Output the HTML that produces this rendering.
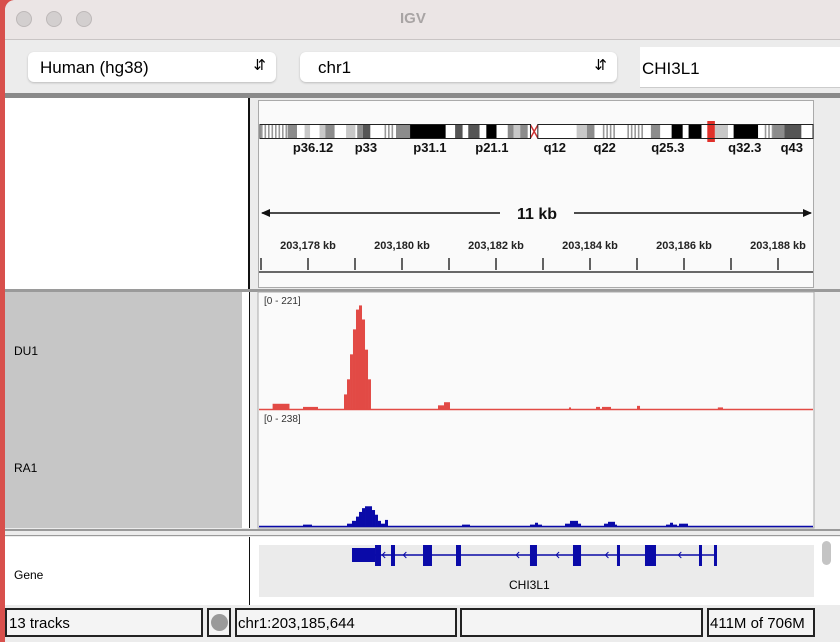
<!DOCTYPE html>
<html><head><meta charset="utf-8">
<style>
*{margin:0;padding:0;box-sizing:border-box}
body{width:840px;height:642px;overflow:hidden;background:#d8504c;font-family:"Liberation Sans",sans-serif;position:relative}
.abs{position:absolute}
#win{position:absolute;left:5px;top:0;width:840px;height:642px;background:#ececec;border-radius:10px 0 0 10px;overflow:hidden}
</style></head>
<body>
<div id="win"></div>
<div class="abs" style="left:5px;top:0;width:835px;height:40px;background:#ebe5e5;border-radius:10px 0 0 0;border-bottom:1px solid #c9c4c4"></div>
<div class="abs" style="left:16px;top:11px;width:16px;height:16px;border-radius:50%;background:#d3cfcf;border:1px solid #bdb8b8"></div>
<div class="abs" style="left:46px;top:11px;width:16px;height:16px;border-radius:50%;background:#d3cfcf;border:1px solid #bdb8b8"></div>
<div class="abs" style="left:76px;top:11px;width:16px;height:16px;border-radius:50%;background:#d3cfcf;border:1px solid #bdb8b8"></div>
<div class="abs" style="left:400px;top:10px;font-size:15px;color:#a8a4a4;font-weight:bold">IGV</div>

<div class="abs" style="left:28px;top:52px;width:248px;height:30px;background:#fff;border-radius:6px;box-shadow:0 1px 2px #bbb;font-size:17px;padding:6px 0 0 12px">Human (hg38)<span style="position:absolute;right:10px;top:4px;font-size:15px">&#8693;</span></div>
<div class="abs" style="left:300px;top:52px;width:317px;height:30px;background:#fff;border-radius:6px;box-shadow:0 1px 2px #bbb;font-size:17px;padding:6px 0 0 18px">chr1<span style="position:absolute;right:10px;top:4px;font-size:15px">&#8693;</span></div>
<div class="abs" style="left:640px;top:47px;width:200px;height:41px;background:#fff;border-bottom:1px solid #ccc;font-size:17px;padding:12px 0 0 2px">CHI3L1</div>
<div class="abs" style="left:5px;top:93px;width:835px;height:5px;background:#8a8a8a"></div>

<div class="abs" style="left:5px;top:98px;width:243px;height:192px;background:#fff"></div>
<div class="abs" style="left:248px;top:98px;width:2px;height:192px;background:#111"></div>
<div class="abs" style="left:258px;top:100px;width:556px;height:188px;background:#fafafa;border:1px solid #aaa"></div>
<div class="abs" style="left:5px;top:289px;width:835px;height:3px;background:#9a9a9a"></div>

<div class="abs" style="left:5px;top:292px;width:237px;height:236px;background:#c6c6c6"></div>
<div class="abs" style="left:242px;top:292px;width:7px;height:236px;background:#fff"></div>
<div class="abs" style="left:249px;top:292px;width:1px;height:236px;background:#111"></div>
<div class="abs" style="left:14px;top:344px;font-size:12px">DU1</div>
<div class="abs" style="left:14px;top:461px;font-size:12px">RA1</div>
<div class="abs" style="left:5px;top:529px;width:835px;height:7px;background:#ececec;border-top:2px solid #9a9a9a;border-bottom:1px solid #9a9a9a"></div>

<div class="abs" style="left:5px;top:537px;width:244px;height:68px;background:#fff"></div>
<div class="abs" style="left:249px;top:537px;width:1px;height:68px;background:#111"></div>
<div class="abs" style="left:14px;top:568px;font-size:12px">Gene</div>
<div class="abs" style="left:250px;top:537px;width:590px;height:68px;background:#fff"></div>
<div class="abs" style="left:259px;top:545px;width:555px;height:52px;background:#ebebeb"></div>
<div class="abs" style="left:822px;top:541px;width:9px;height:24px;background:#c4c4c4;border-radius:5px"></div>
<div class="abs" style="left:509px;top:578px;font-size:12px">CHI3L1</div>

<div class="abs" style="left:5px;top:606px;width:835px;height:36px;background:#ececec"></div>
<div class="abs" style="left:5px;top:608px;width:198px;height:29px;border:2px solid #222;background:#f4f4f4;font-size:15px;padding:5px 0 0 2px">13 tracks</div>
<div class="abs" style="left:207px;top:608px;width:24px;height:29px;border:2px solid #222;background:#f4f4f4"><div style="margin:4px 0 0 2px;width:17px;height:17px;border-radius:50%;background:#9a9a9a"></div></div>
<div class="abs" style="left:235px;top:608px;width:222px;height:29px;border:2px solid #222;background:#f4f4f4;font-size:15px;padding:5px 0 0 1px">chr1:203,185,644</div>
<div class="abs" style="left:460px;top:608px;width:243px;height:29px;border:2px solid #222;background:#f4f4f4"></div>
<div class="abs" style="left:707px;top:608px;width:108px;height:29px;border:2px solid #222;background:#f4f4f4;font-size:15px;padding:5px 0 0 1px">411M of 706M</div>

<svg class="abs" id="chart" style="left:0;top:0" width="840" height="642" xmlns="http://www.w3.org/2000/svg"></svg>

<script>
// ideogram bands (in chromosome Mb)
const bandStart=[0,12.4,16.6,20.0,22.5,26.7,29.3,33.5,38.6,42.8,43.6,46.1,49.5,55.4,60.5,61.0,67.3,83.3,87.5,90.9,93.4,98.5,101.5,106.1,111.1,113.7,116.7,120.1,121.3,124.6,142.0,146.6,150.0,153.3,160.1,164.3,171.9,175.3,179.5,184.6,189.6,192.2,198.0,200.6,204.0,209.9,212.4,223.4,225.9,230.1,235.2,242.8];
const bandEnd=[12.4,16.6,20.0,22.5,26.7,29.3,33.5,38.6,42.8,43.6,46.1,49.5,55.4,60.5,61.0,67.3,83.3,87.5,90.9,93.4,98.5,101.5,106.1,111.1,113.7,116.7,120.1,121.3,124.6,142.0,146.6,150.0,153.3,160.1,164.3,171.9,175.3,179.5,184.6,189.6,192.2,198.0,200.6,204.0,209.9,212.4,223.4,225.9,230.1,235.2,242.8,248];
const bandShade=["s","g","w","l","w","l","g","w","l","w","g","d","w","s","w","g","k","w","d","w","d","w","k","w","g","l","g","w","c","w","l","g","w","s","w","s","w","g","w","k","w","k","w","r","l","w","k","w","s","g","d","w"];
const bandLabels=["p36.12","p33","p31.1","p21.1","q12","q22","q25.3","q32.3","q43"];
const bandLabelPos=[23.8,47.5,76.2,104.0,132.2,154.6,182.9,217.4,238.5];
// ruler
const tickKb=[203177,203178,203179,203180,203181,203182,203183,203184,203185,203186,203187,203188];
const tickLabels=["203,178 kb","203,180 kb","203,182 kb","203,184 kb","203,186 kb","203,188 kb"];
const tickLabelKb=[203178,203180,203182,203184,203186,203188];
// DU1 coverage
const du1Start=[203177.247,203177.894,203178.766,203178.830,203178.894,203178.957,203179.021,203179.085,203179.149,203179.213,203179.277,203180.766,203180.894,203183.553,203184.128,203184.255,203185.000,203186.720];
const du1End=[203177.606,203178.213,203178.830,203178.894,203178.957,203179.021,203179.085,203179.149,203179.213,203179.277,203179.340,203180.894,203181.021,203183.596,203184.213,203184.447,203185.064,203186.830];
const du1Val=[11,5,29,58,106,154,192,200,173,115,58,8,14,4,5,5,7,4];
const du1Max=221;
// RA1 coverage
const ra1Start=[203177.894,203178.830,203178.936,203179.021,203179.085,203179.149,203179.213,203179.362,203179.426,203179.489,203179.553,203179.638,203181.277,203182.723,203182.830,203182.894,203183.468,203183.574,203183.745,203184.298,203184.383,203184.532,203185.617,203185.702,203185.766,203185.894];
const ra1End=[203178.085,203178.936,203179.021,203179.085,203179.149,203179.213,203179.362,203179.426,203179.489,203179.553,203179.638,203179.702,203181.447,203182.830,203182.894,203182.979,203183.574,203183.745,203183.809,203184.383,203184.532,203184.574,203185.702,203185.766,203185.851,203186.085];
const ra1Val=[4,6,12,21,31,39,43,35,25,12,6,14,4,4,8,4,6,12,6,6,10,4,4,8,4,6];
const ra1Max=238;
// CHI3L1 exons
const exonStart=[203178.936,203179.426,203179.766,203180.447,203181.149,203182.723,203183.638,203184.574,203185.170,203186.319,203186.638];
const exonEnd=[203179.426,203179.553,203179.851,203180.638,203181.255,203182.872,203183.809,203184.638,203185.404,203186.383,203186.702];
const exonTall=[0,1,1,1,1,1,1,1,1,1,1];
const strandArrowKb=[203179.60,203180.05,203182.45,203183.30,203184.35,203185.90];

const svg=document.getElementById('chart');
const NS='http://www.w3.org/2000/svg';
const X0=261,PX_PER_KB=47,KB0=203177;
function xs(kb){return X0+(kb-KB0)*PX_PER_KB;}
function ideoX(mb){return 260+mb/248*553;}
function mk(tag,attrs,parent){const e=document.createElementNS(NS,tag);for(const k in attrs)e.setAttribute(k,attrs[k]);(parent||svg).appendChild(e);return e;}
const shadeCol={w:"#ffffff",l:"#c8c8c8",s:"#ffffff",g:"#8c8c8c",d:"#555555",k:"#000000",c:"#ffffff",r:"#e0302a"};

// ideogram
const ideo=mk('g',{});


bandStart.forEach((s,i)=>{
  const sh=bandShade[i];
  const x1=ideoX(s),x2=ideoX(bandEnd[i]);
  const r=mk('rect',{x:x1,y:sh==='r'?121:125,width:x2-x1,height:sh==='r'?21:13,fill:shadeCol[sh]},ideo);
  
  
  if(sh==='s'){for(let x=x1+1;x<x2-1;x+=3.5){mk('rect',{x:x,y:125,width:1.6,height:13,fill:'#999'},ideo);}}
  if(sh==='c'){mk('path',{d:`M${x1} 125 L${x2} 138 M${x1} 138 L${x2} 125`,stroke:'#c33',fill:'none','stroke-width':1.5},ideo);}
});
mk('rect',{x:260,y:124.5,width:ideoX(121.3)-260,height:14,fill:'none',stroke:'#222'},ideo);
mk('rect',{x:ideoX(124.6),y:124.5,width:813-ideoX(124.6),height:14,fill:'none',stroke:'#222'},ideo);
bandLabels.forEach((t,i)=>{
  const e=mk('text',{x:ideoX(bandLabelPos[i]),y:152,'text-anchor':'middle','font-size':13,'font-weight':'bold','font-family':'Liberation Sans, sans-serif',fill:'#111'});
  e.textContent=t;
  
  
});

// span line
const span=mk('g',{});


mk('line',{x1:262,y1:213,x2:500,y2:213,stroke:'#111','stroke-width':1.5},span);
mk('line',{x1:574,y1:213,x2:811,y2:213,stroke:'#111','stroke-width':1.5},span);
mk('path',{d:'M261 213 L270 209 L270 217 Z',fill:'#111'},span);
mk('path',{d:'M812 213 L803 209 L803 217 Z',fill:'#111'},span);
const st=mk('text',{x:537,y:219,'text-anchor':'middle','font-size':16,'font-weight':'bold','font-family':'Liberation Sans, sans-serif',fill:'#111'},span);
st.textContent='11 kb';

// ruler
tickKb.forEach(k=>{
  const t=mk('line',{x1:xs(k),y1:258,x2:xs(k),y2:270,stroke:'#111','stroke-width':1.3});
  
  
});
mk('line',{x1:259,y1:272,x2:813,y2:272,stroke:'#111','stroke-width':1.3});
tickLabels.forEach((t,i)=>{
  const e=mk('text',{x:xs(tickLabelKb[i]),y:249,'text-anchor':'middle','font-size':11,'font-weight':'bold','font-family':'Liberation Sans, sans-serif',fill:'#222'});
  e.textContent=t;
  
  
});

// tracks area background
const bg=mk('rect',{x:258,y:292,width:556,height:236,fill:'#fafafa',stroke:'#aaa'});



function drawTrack(name,starts,ends,vals,max,base,h,col,label,ly){
  const g=mk('g',{});
  
  
  const ys=v=>base-v/max*h;
  starts.forEach((s,i)=>{
    const r=mk('rect',{x:xs(s),y:ys(vals[i]),width:xs(ends[i])-xs(s),height:base-ys(vals[i]),fill:col},g);
    
    
  });
  mk('line',{x1:259,y1:base,x2:813,y2:base,stroke:col,'stroke-width':1.5},g);
  const t=mk('text',{x:264,y:ly,'font-size':10,'font-family':'Liberation Sans, sans-serif',fill:'#333'},g);
  t.textContent=label;
  
  
}
drawTrack('du1-coverage-track',du1Start,du1End,du1Val,du1Max,409.5,115,'#e24a45','[0 - 221]',304);
drawTrack('ra1-coverage-track',ra1Start,ra1End,ra1Val,ra1Max,526.5,112,'#0a0aa8','[0 - 238]',422);

// gene
const gg=mk('g',{});


mk('line',{x1:xs(exonStart[0]),y1:555,x2:xs(exonEnd[exonEnd.length-1]),y2:555,stroke:'#0a0aa8','stroke-width':1.5},gg);
exonStart.forEach((s,i)=>{
  const tall=exonTall[i];
  const r=mk('rect',{x:xs(s),y:tall?545:548,width:Math.max(2,xs(exonEnd[i])-xs(s)),height:tall?21:14,fill:'#0a0aa8'},gg);
  
  
});
strandArrowKb.forEach(k=>{
  mk('path',{d:`M${xs(k)+2} 552 L${xs(k)-1} 555 L${xs(k)+2} 558`,stroke:'#0a0aa8',fill:'none','stroke-width':1},gg);
});
</script>
</body></html>
